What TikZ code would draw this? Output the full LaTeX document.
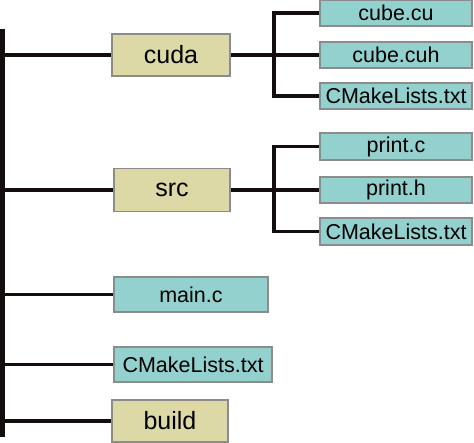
\documentclass[tikz,border=0pt]{standalone}
\usepackage{fontspec}
\setmainfont{Liberation Sans}
\definecolor{khaki}{HTML}{DCD9A6}
\definecolor{teal2}{HTML}{93D1CF}
\definecolor{bordergray}{HTML}{8C8C8C}
\definecolor{linecol}{HTML}{140D0D}
\begin{document}
\begin{tikzpicture}[x=1pt,y=-1pt,
  box/.style={draw=bordergray,line width=1.2pt,inner sep=0pt,anchor=center},
  dirbox/.style={box,fill=khaki,font=\fontsize{25}{28}\selectfont},
  filebox/.style={box,fill=teal2,font=\fontsize{21.5}{24}\selectfont},
  conn/.style={draw=linecol,line width=3.2pt},
  trunk/.style={draw=linecol,line width=4.5pt}]
\useasboundingbox (0,0) rectangle (474,443);
% trunk
\coordinate (tTop) at (2.5,29);
\coordinate (tBot) at (2.5,437);
% branch coordinates
\coordinate (brA) at (274,0);
\coordinate (brB) at (274,0);
% directory / file boxes
\node[dirbox,minimum width=118pt,minimum height=42pt] (cuda) at (171,55) {cuda};
\node[dirbox,minimum width=116pt,minimum height=43pt] (src) at (172,190) {src};
\node[filebox,minimum width=154pt,minimum height=35pt] (mainc) at (191,294.5) {main.c};
\node[filebox,minimum width=158pt,minimum height=35pt] (cmroot) at (193,364.5) {CMakeLists.txt};
\node[dirbox,minimum width=116pt,minimum height=42pt] (build) at (170,421) {build};
% right-hand files
\node[filebox,minimum width=152pt,minimum height=26pt] (cubecu) at (396,13) {cube.cu};
\node[filebox,minimum width=152pt,minimum height=26pt] (cubecuh) at (396,55) {cube.cuh};
\node[filebox,minimum width=152pt,minimum height=26pt] (cmcuda) at (396,96) {CMakeLists.txt};
\node[filebox,minimum width=152pt,minimum height=27pt] (printc) at (396,146.5) {print.c};
\node[filebox,minimum width=152pt,minimum height=26pt] (printh) at (396,190) {print.h};
\node[filebox,minimum width=152pt,minimum height=27pt] (cmsrc) at (396,231.5) {CMakeLists.txt};
% trunk line
\draw[trunk] (tTop) -- (tBot);
% trunk connectors
\draw[conn] (cuda.west -| tTop) -- (cuda.west);
\draw[conn] (src.west -| tTop) -- (src.west);
\draw[conn] (mainc.west -| tTop) -- (mainc.west);
\draw[conn] (cmroot.west -| tTop) -- (cmroot.west);
\draw[conn] (build.west -| tTop) -- (build.west);
% cuda branch
\draw[conn] (cubecu.west) -- (cubecu.west -| brA) -- (cmcuda.west -| brA) -- (cmcuda.west);
\draw[conn] (cuda.east) -- (cubecuh.west);
% src branch
\draw[conn] (printc.west) -- (printc.west -| brB) -- (cmsrc.west -| brB) -- (cmsrc.west);
\draw[conn] (src.east) -- (printh.west);
\end{tikzpicture}
\end{document}
